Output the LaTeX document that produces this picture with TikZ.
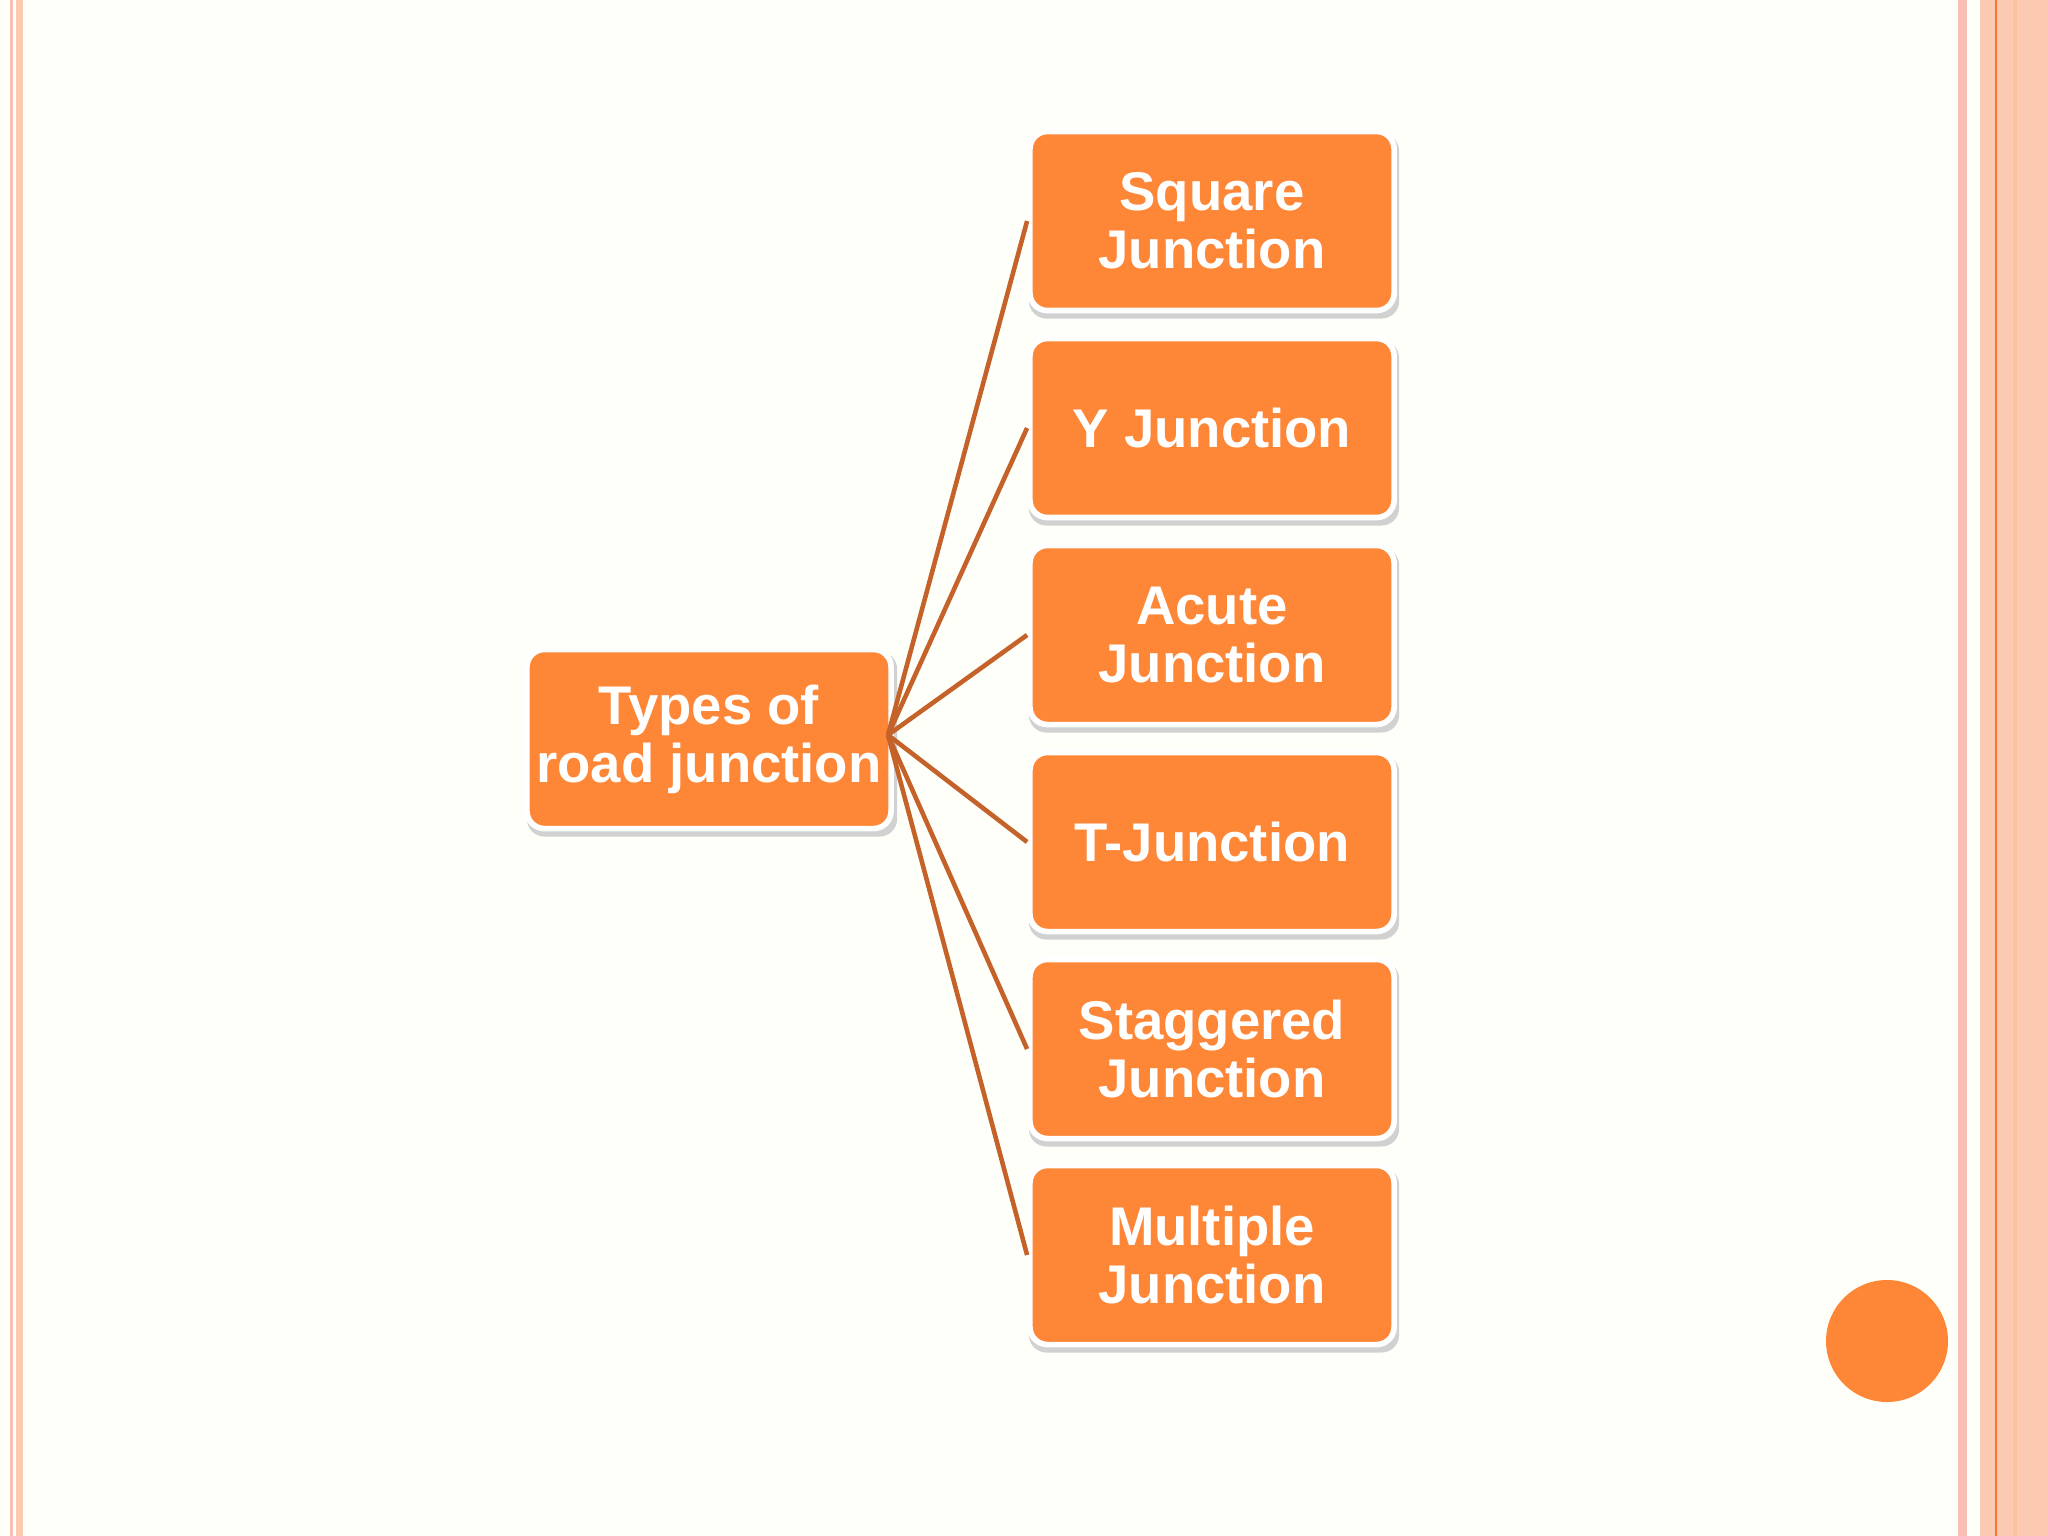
\documentclass[tikz,border=0pt]{standalone}
\usepackage{fontspec}
\setmainfont{Liberation Sans}
\begin{document}
\begin{tikzpicture}[x=0.01cm,y=-0.01cm,
  box/.style={draw=white,line width=1.6pt,fill=boxor,rounded corners=5pt,minimum width=3.64cm,minimum height=1.79cm,align=center,text=white,font=\bfseries\fontsize{15.5}{16.5}\selectfont,inner sep=1pt},
  shadowbox/.style={fill=black!18,rounded corners=5pt,minimum width=3.7cm,minimum height=1.85cm},
  conn/.style={draw=lineor,line width=1.3pt}]
\definecolor{boxor}{HTML}{FE8637}
\definecolor{lineor}{HTML}{C4622A}
\definecolor{peach}{HTML}{FCC9B1}
\definecolor{pinkst}{HTML}{F9BFB4}
\fill[white!98!yellow] (0,0) rectangle (2048,1536);
\useasboundingbox (0,0) rectangle (2048,1536);
% left stripes
\fill[pinkst] (10,0) rectangle (13,1536);
\fill[peach] (16,0) rectangle (23,1536);
% right stripes
\fill[pinkst] (1958,0) rectangle (1967,1536);
\fill[peach] (1980,0) rectangle (2048,1536);
\fill[peach!90!orange] (2013,0) rectangle (2017,1536);
\draw[boxor!85!red,line width=0.6pt] (1996,0) -- (1996,1536);
% circle
\fill[boxor] (1887,1341) circle (61);
% shadows
\foreach \y in {221,428,635,842,1049,1255} \node[shadowbox] at (1214,\y+5) {};
\node[shadowbox] at (712,744) {};
% nodes
\node[box] (root) at (709,739) {Types of\\road junction};
\coordinate (hub) at (888,735);
\node[box] (c1) at (1212,221) {Square\\Junction};
\node[box] (c2) at (1212,428) {Y Junction};
\node[box] (c3) at (1212,635) {Acute\\Junction};
\node[box] (c4) at (1212,842) {T-Junction};
\node[box] (c5) at (1212,1049) {Staggered\\Junction};
\node[box] (c6) at (1212,1255) {Multiple\\Junction};
\foreach \c in {c1,c2,c3,c4,c5,c6} \draw[conn] (hub) -- (\c.west);
\end{tikzpicture}
\end{document}
